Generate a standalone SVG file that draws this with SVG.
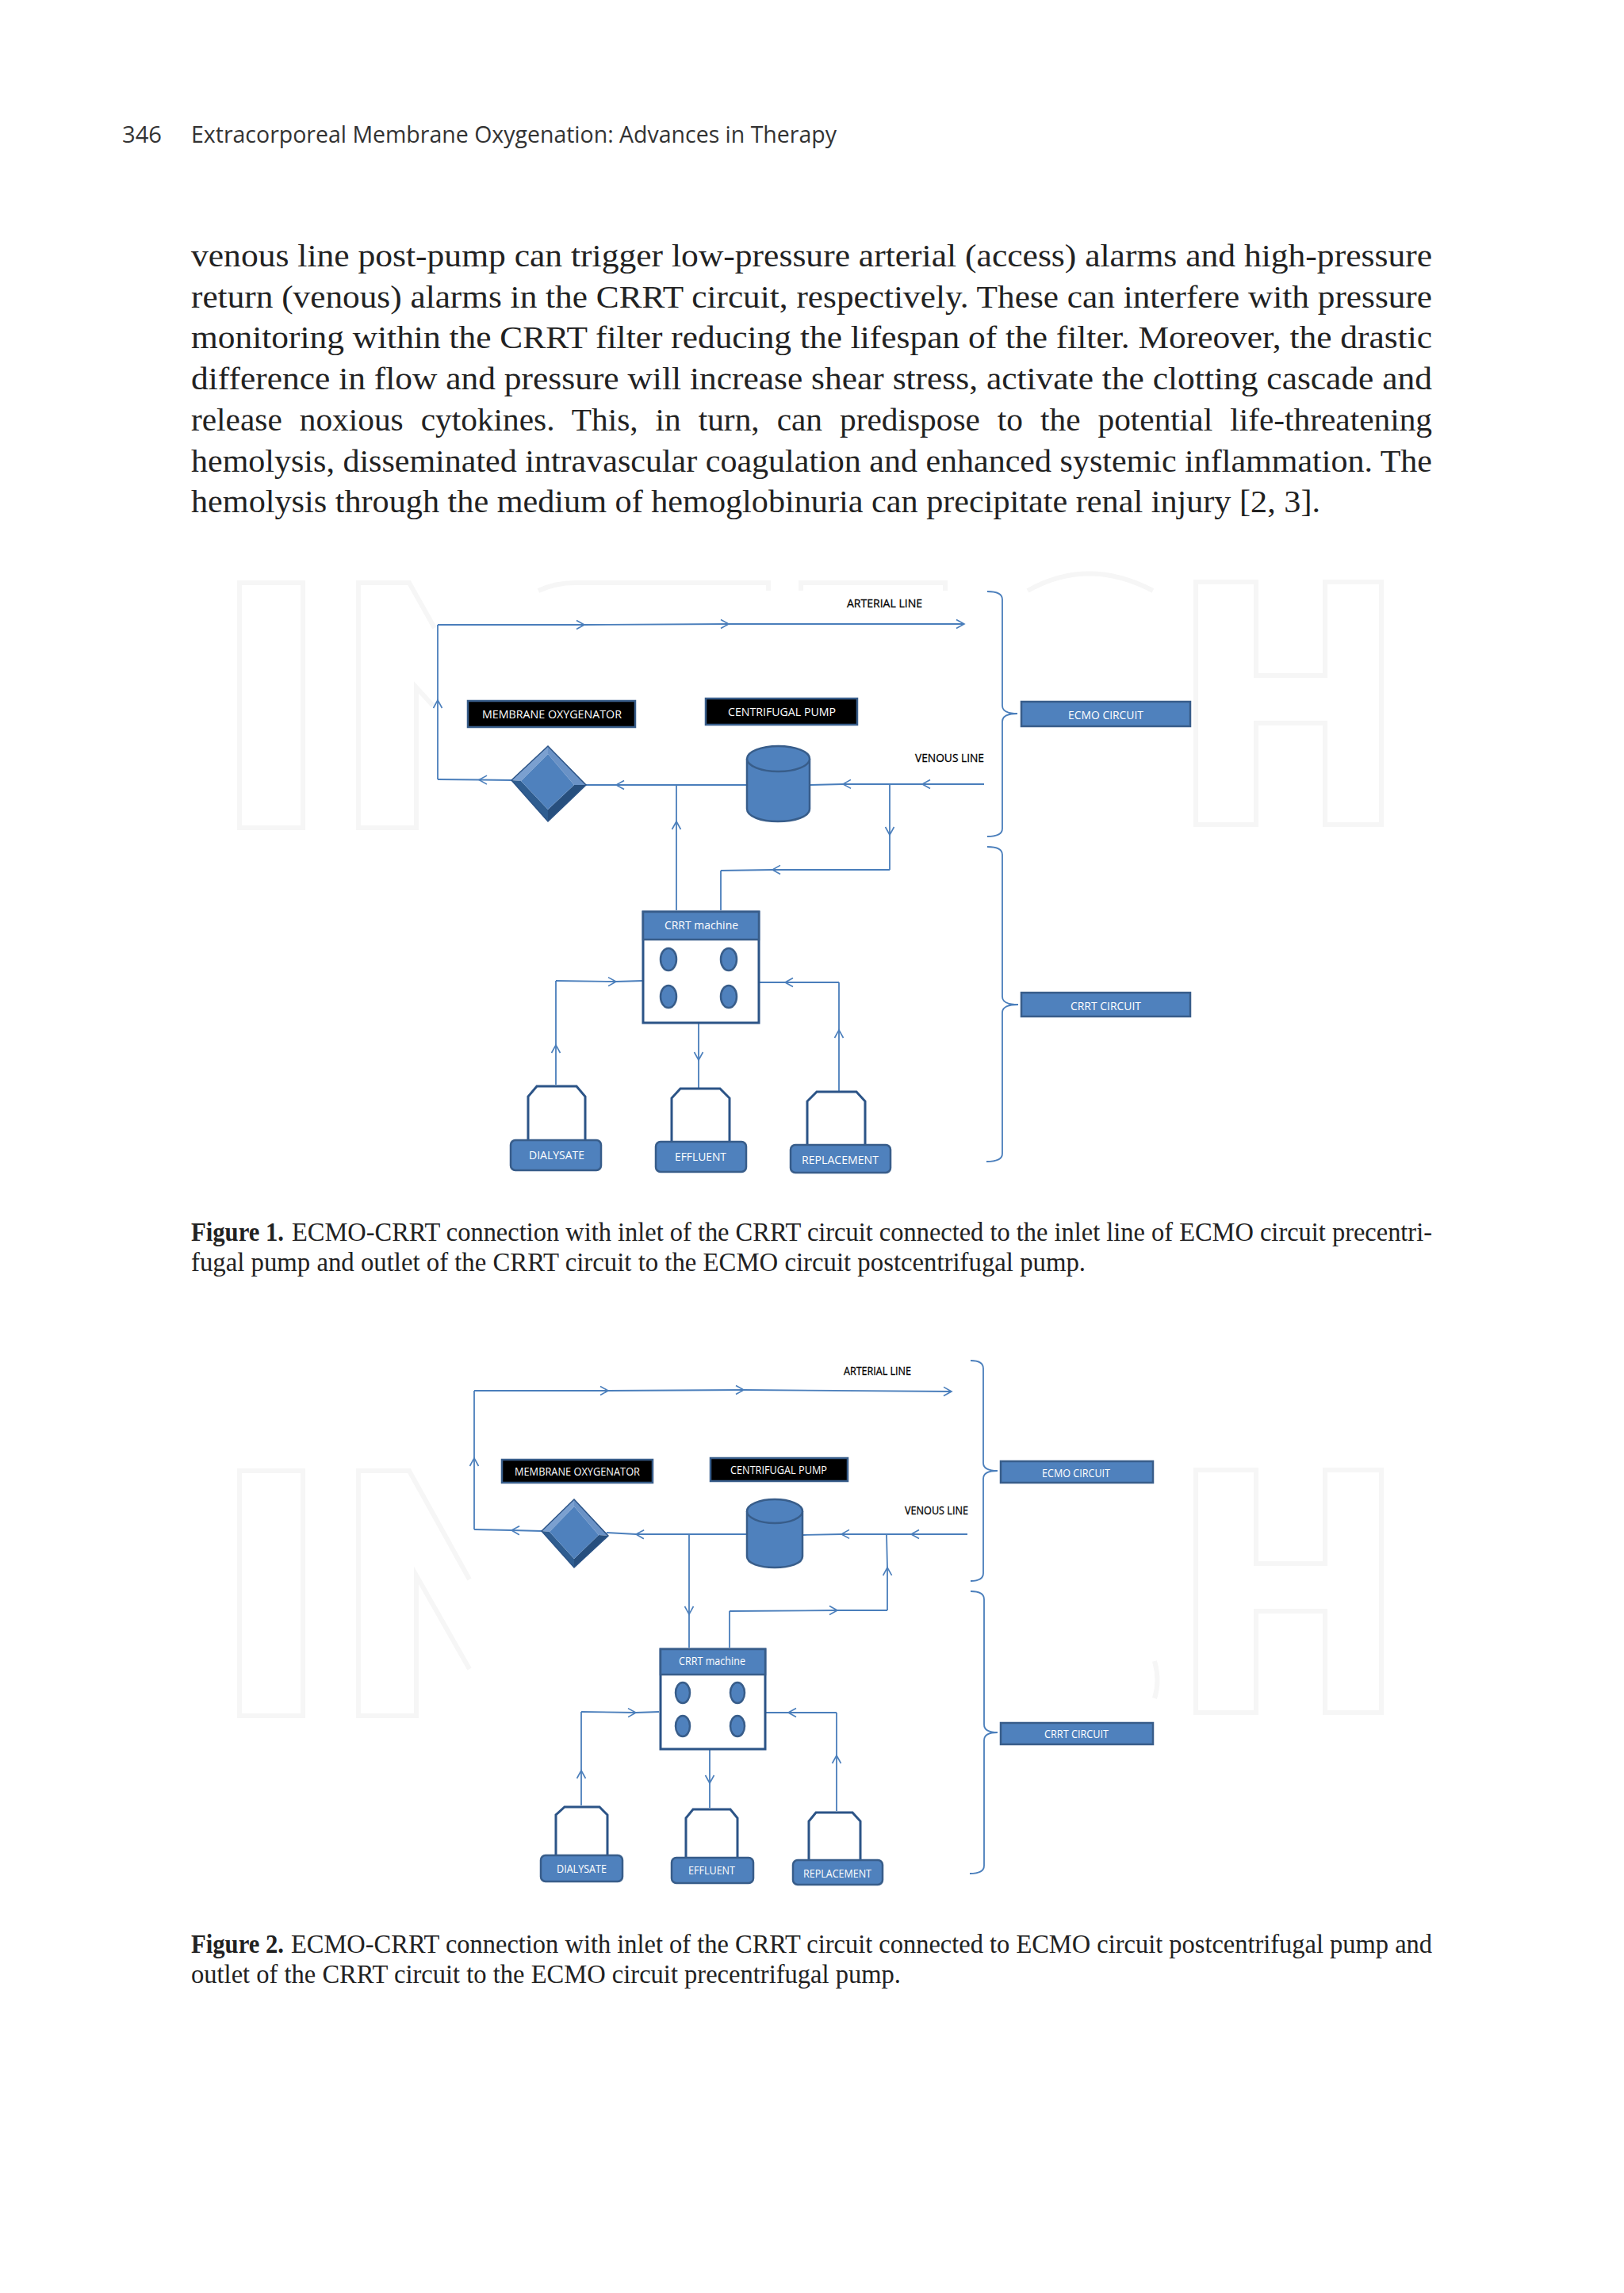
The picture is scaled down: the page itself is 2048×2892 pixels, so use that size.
<svg xmlns="http://www.w3.org/2000/svg" width="2048" height="2892" viewBox="0 0 2048 2892">
<style>
.body{font-family:"Liberation Serif","Noto Serif",serif;font-size:39px;fill:#222}
.cap{font-family:"Liberation Serif",serif;font-size:33px;fill:#222}
.capb{font-family:"Liberation Serif",serif;font-size:33px;font-weight:bold;fill:#222}
.hdr{font-family:"Open Sans","Liberation Sans",sans-serif;font-size:29px;fill:#333}
.wm{fill:none;stroke:#f6f6f6;stroke-width:6}
.ln{fill:none;stroke:#4a7ebb;stroke-width:1.8;marker-mid:url(#arr);marker-end:url(#arr)}
.pl{fill:none;stroke:#4a7ebb;stroke-width:1.8}
.br{fill:none;stroke:#4a7ebb;stroke-width:1.8}
.bl{fill:#4f81bd;stroke:#385d8a;stroke-width:2.5}
.bk{fill:#000;stroke:#385d8a;stroke-width:2.5}
.ho{fill:#fff;stroke:#2c5487;stroke-width:3}
.tw{font-family:"Open Sans","Liberation Sans",sans-serif;font-size:15px;fill:#fff}
.tk{font-family:"Open Sans","Liberation Sans",sans-serif;font-size:15px;fill:#000;stroke:#000;stroke-width:.3}
.lt{fill:#7ba0d0}.md{fill:#6a92c6}.dk{fill:#2f5d90}.dd{fill:#274f7e}
</style>
<defs>
<marker id="arr" markerUnits="userSpaceOnUse" markerWidth="14" markerHeight="16" refX="11" refY="7" orient="auto" viewBox="0 0 14 16">
<path d="M1,1.5 L11,7 L1,12.5" fill="none" stroke="#4a7ebb" stroke-width="1.6"/>
</marker>
</defs>
<rect width="2048" height="2892" fill="#fff"/>

<g id="page-text">
<text class="hdr" x="154" y="180" textLength="50" lengthAdjust="spacingAndGlyphs">346</text>
<text class="hdr" x="241" y="180" textLength="814" lengthAdjust="spacingAndGlyphs">Extracorporeal Membrane Oxygenation: Advances in Therapy</text>
<text class="body" x="241" y="336" textLength="1565" lengthAdjust="spacingAndGlyphs">venous line post-pump can trigger low-pressure arterial (access) alarms and high-pressure</text>
<text class="body" x="241" y="388" textLength="1565" lengthAdjust="spacingAndGlyphs">return (venous) alarms in the CRRT circuit, respectively. These can interfere with pressure</text>
<text class="body" x="241" y="439" textLength="1565" lengthAdjust="spacingAndGlyphs">monitoring within the CRRT filter reducing the lifespan of the filter. Moreover, the drastic</text>
<text class="body" x="241" y="491" textLength="1565" lengthAdjust="spacingAndGlyphs">difference in flow and pressure will increase shear stress, activate the clotting cascade and</text>
<text class="body" style="word-spacing:11px" x="241" y="543" textLength="1565" lengthAdjust="spacingAndGlyphs">release noxious cytokines. This, in turn, can predispose to the potential life-threatening</text>
<text class="body" x="241" y="595" textLength="1565" lengthAdjust="spacingAndGlyphs">hemolysis, disseminated intravascular coagulation and enhanced systemic inflammation. The</text>
<text class="body" x="241" y="646" textLength="1424" lengthAdjust="spacingAndGlyphs">hemolysis through the medium of hemoglobinuria can precipitate renal injury [2, 3].</text>
<text class="capb" x="241" y="1565" textLength="117" lengthAdjust="spacingAndGlyphs">Figure 1.</text>
<text class="cap" x="368" y="1565" textLength="1438" lengthAdjust="spacingAndGlyphs">ECMO-CRRT connection with inlet of the CRRT circuit connected to the inlet line of ECMO circuit precentri-</text>
<text class="cap" x="241" y="1603" textLength="1128" lengthAdjust="spacingAndGlyphs">fugal pump and outlet of the CRRT circuit to the ECMO circuit postcentrifugal pump.</text>
<text class="capb" x="241" y="2463" textLength="117" lengthAdjust="spacingAndGlyphs">Figure 2.</text>
<text class="cap" x="367" y="2463" textLength="1439" lengthAdjust="spacingAndGlyphs">ECMO-CRRT connection with inlet of the CRRT circuit connected to ECMO circuit postcentrifugal pump and</text>
<text class="cap" x="241" y="2501" textLength="895" lengthAdjust="spacingAndGlyphs">outlet of the CRRT circuit to the ECMO circuit precentrifugal pump.</text>
</g>

<g id="watermark">
<rect class="wm" x="302" y="735" width="80" height="309"/>
<path class="wm" d="M548,792 L516,735 L452,735 L452,1044 L525,1044 L525,867 L546,890"/>
<path class="wm" d="M679,745 Q700,735 726,735 L969,735 L969,745 M1010,745 L1010,735 L1192,735 L1192,745 M1296,745 Q1372,702 1454,745"/>
<path class="wm" d="M1508,734 L1584,734 L1584,852 L1671,852 L1671,734 L1742,734 L1742,1040 L1671,1040 L1671,912 L1584,912 L1584,1040 L1508,1040 Z"/>
<rect class="wm" x="302" y="1855" width="80" height="309"/>
<path class="wm" d="M592,1992 L516,1855 L452,1855 L452,2164 L525,2164 L525,1987 L592,2105"/>
<path class="wm" d="M1456,2095 Q1463,2120 1456,2142"/>
<path class="wm" d="M1508,1854 L1584,1854 L1584,1972 L1671,1972 L1671,1854 L1742,1854 L1742,2160 L1671,2160 L1671,2032 L1584,2032 L1584,2160 L1508,2160 Z"/>
</g>

<g id="connectors-fig1">
<path class="ln" d="M552,788 L737,788 L919,787 L1216,787"/>
<path class="ln" style="marker-end:none" d="M552,983 L552,883 L552,788"/>
<path class="ln" style="marker-end:none" d="M645,984 L604,983.5 L552,983"/>
<path class="ln" style="marker-end:none" d="M941,990 L777,990 L739,990"/>
<path class="ln" style="marker-end:none" d="M1241,989 L1163,989 L1063,989 L1022,990"/>
<path class="ln" style="marker-end:none" d="M853,1148 L853,1036 L853,990"/>
<path class="ln" style="marker-end:none" d="M1122,989 L1122,1053 L1122,1097"/>
<path class="ln" style="marker-end:none" d="M1122,1097 L974,1097 L909,1098"/>
<path class="pl" d="M909,1098 L909,1148"/>
<path class="ln" style="marker-end:none" d="M701,1368 L701,1318 L701,1237"/>
<path class="ln" style="marker-end:none" d="M701,1237 L777,1238 L810,1237"/>
<path class="ln" style="marker-end:none" d="M881,1291 L881,1337 L881,1372"/>
<path class="ln" style="marker-end:none" d="M1058,1376 L1058,1299 L1058,1239"/>
<path class="ln" style="marker-end:none" d="M1058,1239 L990,1239 L958,1239"/>
</g>

<g id="connectors-fig2">
<path class="ln" d="M598,1754 L767,1754 L938,1753 L1200,1755"/>
<path class="ln" style="marker-end:none" d="M598,1929 L598,1839 L598,1754"/>
<path class="ln" style="marker-end:none" d="M683,1931 L645,1930 L598,1929"/>
<path class="ln" style="marker-end:none" d="M941,1935 L802,1935 L765,1933"/>
<path class="ln" style="marker-end:none" d="M1220,1935 L1149,1935 L1061,1935 L1013,1936"/>
<path class="ln" style="marker-end:none" d="M869,1935 L869,2036 L869,2078"/>
<path class="pl" d="M920,2078 L920,2032"/>
<path class="ln" style="marker-end:none" d="M920,2032 L1056,2031 L1119,2031"/>
<path class="ln" style="marker-end:none" d="M1119,2031 L1119,1977 L1118,1935"/>
<path class="ln" style="marker-end:none" d="M733,2277 L733,2233 L733,2159"/>
<path class="ln" style="marker-end:none" d="M733,2159 L802,2160 L831,2159"/>
<path class="ln" style="marker-end:none" d="M895,2207 L895,2249 L895,2280"/>
<path class="ln" style="marker-end:none" d="M1055,2284 L1055,2214 L1055,2160"/>
<path class="ln" style="marker-end:none" d="M1055,2160 L994,2160 L965,2160"/>
</g>

<g id="fig1-arterial-label"><text class="tk" x="1068" y="766" textLength="95" lengthAdjust="spacingAndGlyphs">ARTERIAL LINE</text></g>
<g id="fig1-venous-label"><text class="tk" x="1154" y="961" textLength="87" lengthAdjust="spacingAndGlyphs">VENOUS LINE</text></g>
<g id="fig1-membrane-label"><rect class="bk" x="590" y="884" width="211" height="33"/><text class="tw" x="608" y="906" textLength="176" lengthAdjust="spacingAndGlyphs">MEMBRANE OXYGENATOR</text></g>
<g id="fig1-pump-label"><rect class="bk" x="890" y="881" width="191" height="33"/><text class="tw" x="918" y="903" textLength="136" lengthAdjust="spacingAndGlyphs">CENTRIFUGAL PUMP</text></g>
<g id="fig1-oxygenator">
<polygon class="lt" points="645,984 691,941 691,951 657,985"/>
<polygon class="md" points="691,941 739,990 724,990 691,951"/>
<polygon class="dk" points="645,984 657,985 691,1021 691,1036"/>
<polygon class="dd" points="739,990 691,1036 691,1021 724,990"/>
<polygon fill="#4f81bd" points="691,951 724,990 691,1021 657,985"/>
<polygon fill="none" stroke="#2c5487" stroke-width="1.5" points="645,984 691,941 739,990 691,1036"/>
</g>
<g id="fig1-pump">
<path class="bl" d="M942,957 L942,1020 C942,1030 960,1036 981,1036 C1002,1036 1021,1030 1021,1020 L1021,957"/>
<ellipse class="bl" cx="981.5" cy="957" rx="39.5" ry="16"/>
</g>
<g id="fig1-crrt-machine">
<rect class="ho" x="811" y="1150" width="146" height="140"/>
<rect class="bl" x="811" y="1150" width="146" height="35"/>
<text class="tw" x="838" y="1172" textLength="93" lengthAdjust="spacingAndGlyphs">CRRT machine</text>
<ellipse class="bl" cx="843" cy="1210" rx="10" ry="14"/>
<ellipse class="bl" cx="919" cy="1210" rx="10" ry="14"/>
<ellipse class="bl" cx="843" cy="1257" rx="10" ry="14"/>
<ellipse class="bl" cx="919" cy="1257" rx="10" ry="14"/>
</g>
<g id="fig1-dialysate">
<path class="ho" d="M666,1438 L666,1383 L677,1370 L727,1370 L738,1383 L738,1438"/>
<rect class="bl" x="644" y="1438" width="114" height="38" rx="6"/>
<text class="tw" x="667" y="1462" textLength="70" lengthAdjust="spacingAndGlyphs">DIALYSATE</text>
</g>
<g id="fig1-effluent">
<path class="ho" d="M847,1440 L847,1385 L858,1373 L908,1373 L920,1385 L920,1440"/>
<rect class="bl" x="827" y="1440" width="114" height="38" rx="6"/>
<text class="tw" x="851" y="1464" textLength="65" lengthAdjust="spacingAndGlyphs">EFFLUENT</text>
</g>
<g id="fig1-replacement">
<path class="ho" d="M1018,1444 L1018,1389 L1030,1377 L1080,1377 L1091,1389 L1091,1444"/>
<rect class="bl" x="997" y="1444" width="126" height="35" rx="6"/>
<text class="tw" x="1011" y="1468" textLength="97" lengthAdjust="spacingAndGlyphs">REPLACEMENT</text>
</g>
<g id="fig1-ecmo-brace"><path class="br" d="M1245,746 Q1264,746 1264,756 L1264,890 Q1264,900 1283,900 Q1264,900 1264,910 L1264,1045 Q1264,1055 1245,1055"/></g>
<g id="fig1-crrt-brace"><path class="br" d="M1245,1068 Q1264,1068 1264,1078 L1264,1257 Q1264,1267 1284,1267 Q1264,1267 1264,1277 L1264,1455 Q1264,1465 1244,1465"/></g>
<g id="fig1-ecmo-circuit"><rect class="bl" x="1288" y="885" width="213" height="31"/><text class="tw" x="1347" y="907" textLength="95" lengthAdjust="spacingAndGlyphs">ECMO CIRCUIT</text></g>
<g id="fig1-crrt-circuit"><rect class="bl" x="1288" y="1252" width="213" height="30"/><text class="tw" x="1350" y="1274" textLength="89" lengthAdjust="spacingAndGlyphs">CRRT CIRCUIT</text></g>

<g id="fig2-arterial-label"><text class="tk" style="font-size:14px" x="1064" y="1734" textLength="85" lengthAdjust="spacingAndGlyphs">ARTERIAL LINE</text></g>
<g id="fig2-venous-label"><text class="tk" style="font-size:14px" x="1141" y="1910" textLength="80" lengthAdjust="spacingAndGlyphs">VENOUS LINE</text></g>
<g id="fig2-membrane-label"><rect class="bk" x="633" y="1841" width="190" height="29"/><text class="tw" style="font-size:14px" x="649" y="1861" textLength="158" lengthAdjust="spacingAndGlyphs">MEMBRANE OXYGENATOR</text></g>
<g id="fig2-pump-label"><rect class="bk" x="896" y="1839" width="173" height="29"/><text class="tw" style="font-size:14px" x="921" y="1859" textLength="122" lengthAdjust="spacingAndGlyphs">CENTRIFUGAL PUMP</text></g>
<g id="fig2-oxygenator">
<polygon class="lt" points="683,1931 724,1891 724,1900 693,1932"/>
<polygon class="md" points="724,1891 767,1937 755,1936 724,1900"/>
<polygon class="dk" points="683,1931 693,1932 724,1966 724,1977"/>
<polygon class="dd" points="767,1937 724,1977 724,1966 755,1936"/>
<polygon fill="#4f81bd" points="724,1900 755,1936 724,1966 693,1932"/>
<polygon fill="none" stroke="#2c5487" stroke-width="1.5" points="683,1931 724,1891 767,1937 724,1977"/>
</g>
<g id="fig2-pump">
<path class="bl" d="M942,1906 L942,1963 C942,1972 958,1977 977,1977 C996,1977 1012,1972 1012,1963 L1012,1906"/>
<ellipse class="bl" cx="977" cy="1906" rx="35" ry="15"/>
</g>
<g id="fig2-crrt-machine">
<rect class="ho" x="833" y="2080" width="132" height="126"/>
<rect class="bl" x="833" y="2080" width="132" height="32"/>
<text class="tw" style="font-size:14px" x="856" y="2100" textLength="84" lengthAdjust="spacingAndGlyphs">CRRT machine</text>
<ellipse class="bl" cx="861" cy="2135" rx="9" ry="13"/>
<ellipse class="bl" cx="930" cy="2135" rx="9" ry="13"/>
<ellipse class="bl" cx="861" cy="2177" rx="9" ry="13"/>
<ellipse class="bl" cx="930" cy="2177" rx="9" ry="13"/>
</g>
<g id="fig2-dialysate">
<path class="ho" d="M701,2340 L701,2289 L712,2279 L756,2279 L766,2289 L766,2340"/>
<rect class="bl" x="682" y="2340" width="103" height="33" rx="6"/>
<text class="tw" style="font-size:14px" x="702" y="2362" textLength="63" lengthAdjust="spacingAndGlyphs">DIALYSATE</text>
</g>
<g id="fig2-effluent">
<path class="ho" d="M865,2343 L865,2293 L874,2282 L921,2282 L930,2293 L930,2343"/>
<rect class="bl" x="847" y="2343" width="103" height="32" rx="6"/>
<text class="tw" style="font-size:14px" x="868" y="2364" textLength="59" lengthAdjust="spacingAndGlyphs">EFFLUENT</text>
</g>
<g id="fig2-replacement">
<path class="ho" d="M1020,2346 L1020,2297 L1029,2286 L1075,2286 L1085,2297 L1085,2346"/>
<rect class="bl" x="1000" y="2346" width="113" height="31" rx="6"/>
<text class="tw" style="font-size:14px" x="1013" y="2368" textLength="86" lengthAdjust="spacingAndGlyphs">REPLACEMENT</text>
</g>
<g id="fig2-ecmo-brace"><path class="br" d="M1224,1716 Q1240,1716 1240,1726 L1240,1845 Q1240,1855 1258,1855 Q1240,1855 1240,1865 L1240,1984 Q1240,1994 1224,1994"/></g>
<g id="fig2-crrt-brace"><path class="br" d="M1224,2007 Q1241,2007 1241,2017 L1241,2175 Q1241,2185 1258,2185 Q1241,2185 1241,2195 L1241,2353 Q1241,2363 1223,2363"/></g>
<g id="fig2-ecmo-circuit"><rect class="bl" x="1262" y="1843" width="192" height="27"/><text class="tw" style="font-size:14px" x="1314" y="1863" textLength="86" lengthAdjust="spacingAndGlyphs">ECMO CIRCUIT</text></g>
<g id="fig2-crrt-circuit"><rect class="bl" x="1262" y="2173" width="192" height="27"/><text class="tw" style="font-size:14px" x="1317" y="2192" textLength="81" lengthAdjust="spacingAndGlyphs">CRRT CIRCUIT</text></g>
</svg>
